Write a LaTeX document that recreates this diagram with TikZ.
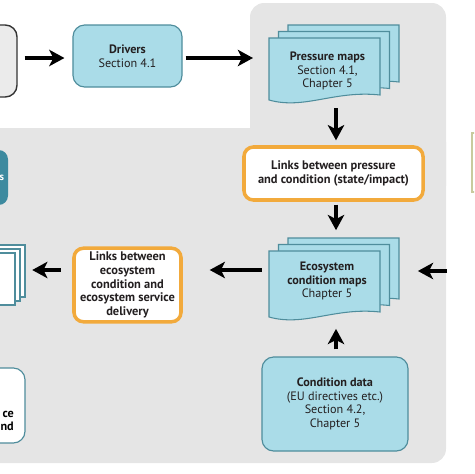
\documentclass[tikz,border=0pt]{standalone}
\usepackage{fontspec}
\setmainfont{PT Sans}
\usetikzlibrary{arrows.meta,positioning}

\definecolor{panelgray}{HTML}{E5E5E5}
\definecolor{mapblue}{HTML}{AADCE8}
\definecolor{mapedge}{HTML}{4F8D9C}
\definecolor{linkorange}{HTML}{F2AA3C}
\definecolor{tealfill}{HTML}{3D8A9F}
\definecolor{startgray}{HTML}{EBEBEB}
\definecolor{textdark}{HTML}{231F20}
\definecolor{greenedge}{HTML}{C8CB9E}

% stack of map sheets: [node options]{name}{front sheet centre}{sheet height}{text}
\newcommand{\mapstack}[5][]{%
  \foreach \dx/\dy in {19/-13,9.5/-6.5,0/0}
    \filldraw[sheet, shift={#3}, shift={(\dx,\dy)}]
      (-55.5,-#4/2) -- (55.5,-#4/2) -- (55.5,#4/2-5)
      .. controls (10,#4/2-10) and (-20,#4/2+10) .. (-55.5,#4/2) -- cycle;
  \node[sheettext, minimum height={#4*0.03cm}, #1] (#2) at #3 {#5};
}

\begin{document}
\begin{tikzpicture}[
    x=0.03cm, y=-0.03cm,
    every node/.style={font=\fontsize{10.4}{11.6}\selectfont, text=textdark},
    bluebox/.style={draw=mapedge, fill=mapblue, line width=1pt, rounded corners=10pt, align=center},
    linkbox/.style={draw=linkorange, fill=white, line width=3pt, rounded corners=8pt, align=center, font=\fontsize{10.6}{11.6}\selectfont\bfseries},
    sheet/.style={draw=mapedge, fill=mapblue, line width=0.9pt},
    leftsheet/.style={draw=mapedge, fill=white, line width=1pt},
    sheettext/.style={minimum width=3.33cm, align=center},
    flow/.style={line width=3.2pt, -{Stealth[length=13pt, width=14pt, inset=3.5pt]}}
]
\useasboundingbox (0,0) rectangle (474,474);
\clip (0,0) rectangle (474,474);

% grey panel
\fill[panelgray, rounded corners=12pt] (250,3) rectangle (446,200);
\fill[panelgray, rounded corners=12pt] (-30,128) rectangle (446,463);

% top row
\node[draw=black!80, fill=startgray, line width=1.2pt, rounded corners=10pt,
      minimum width=1.71cm, minimum height=2.16cm] (startbox) at (-11.5,61) {};
\node[bluebox, minimum width=3.27cm, minimum height=1.86cm] (drivers) at (127.5,56)
    {\textbf{Drivers}\\Section 4.1};
\mapstack[shift={(3,2)}]{pmaps}{(324.5,69)}{62}{\textbf{Pressure maps}\\Section 4.1,\\Chapter 5}

% middle column
\node[linkbox, minimum width=5.37cm, minimum height=1.59cm] (linkpc) at (333.5,173.5)
    {Links between pressure\\and condition (state/impact)};
\mapstack[shift={(2.5,-3)}]{eco}{(324.5,284)}{66}{\textbf{Ecosystem}\\\textbf{condition maps}\\Chapter 5}
\node[bluebox, minimum width=4.38cm, minimum height=2.82cm] (conddata) at (335,404)
    {\textbf{Condition data}\\(EU directives etc.)\\Section 4.2,\\Chapter 5};

% left side
\node[linkbox, minimum width=3.21cm, minimum height=2.16cm] (linkes) at (127.5,285)
    {Links between\\ecosystem\\condition and\\ecosystem service\\delivery};
\foreach \dx/\dy in {10/-8,5/-4,0/0}
  \filldraw[leftsheet, shift={(\dx,\dy)}] (-60,253) rectangle (15,305);
\node[minimum width=2.25cm, minimum height=1.56cm] (leftstack) at (-22.5,279) {};
\node[fill=tealfill, rounded corners=8pt, text width=1.5cm, inner xsep=0.12cm,
      minimum height=1.65cm, align=right, text=white, font=\fontsize{9}{11}\selectfont\bfseries]
    (tealbox) at (-21,177.5) {s};
\node[draw=mapedge, fill=white, line width=1pt, rounded corners=10pt,
      minimum width=2.55cm, minimum height=2.25cm] (svcbox) at (-17.5,405.5) {};
\node[anchor=east, align=right, inner sep=0pt, text=black,
      font=\fontsize{10.4}{11.6}\selectfont\bfseries] (svctext) at (14,421) {ce\\nd};

% right side
\node[draw=greenedge, fill=white, line width=1.2pt, minimum width=0.54cm,
      minimum height=1.77cm] (scenbox) at (481,162.5) {};

% arrows
\coordinate (toprow) at (0,58);
\coordinate (row) at (0,270);
\coordinate (midcol) at (336,0);
\coordinate (rightin) at (447,271);
\draw[flow, shorten <=6pt, shorten >=6.8pt] (startbox.east |- toprow) -- (drivers.west |- toprow);
\draw[flow, shorten <=2.5pt, shorten >=16pt] (drivers.east |- toprow) -- (pmaps.west |- toprow);
\draw[flow, shorten <=5pt, shorten >=4.2pt] (pmaps.south -| midcol) -- (linkpc.north -| midcol);
\draw[flow, shorten <=2.5pt, shorten >=15pt] (linkpc.south -| midcol) -- (eco.north -| midcol);
\draw[flow, shorten <=6pt, shorten >=12.5pt] (conddata.north -| midcol) -- (eco.south -| midcol);
\draw[flow, shorten <=8pt, shorten >=23pt] (eco.west |- row) -- (linkes.east |- row);
\draw[flow, shorten <=10pt, shorten >=14.5pt] (linkes.west |- row) -- (leftstack.east |- row);
\draw[flow, shorten >=30pt] (rightin) -- (eco.east |- rightin);
\end{tikzpicture}
\end{document}
